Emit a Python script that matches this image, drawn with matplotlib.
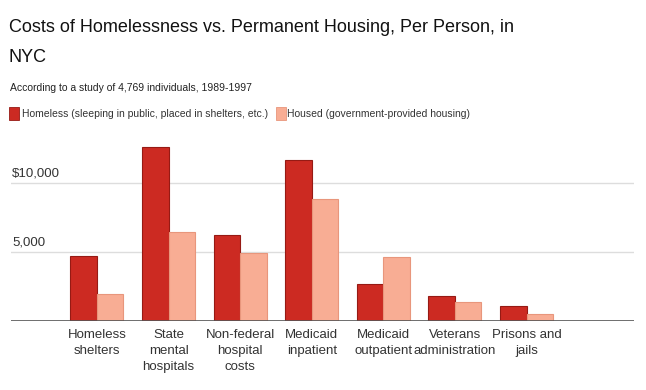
import numpy as np
import matplotlib
matplotlib.use('Agg')
import matplotlib.pyplot as plt

plt.rcParams['font.family'] = ['Liberation Sans', 'DejaVu Sans']

categories = ['Homeless\nshelters', 'State\nmental\nhospitals', 'Non-federal\nhospital\ncosts',
              'Medicaid\ninpatient', 'Medicaid\noutpatient', 'Veterans\nadministration', 'Prisons and\njails']
homeless = [4690, 12600, 6260, 11700, 2660, 1840, 1090]
housed = [1930, 6430, 4900, 8840, 4620, 1380, 490]
yticks = [5000, 10000]
ytick_labels = ['5,000', '$10,000']

red = '#cc2a22'
red_edge = '#961a14'
salmon = '#f8ad94'
salmon_edge = '#e8967c'

fig = plt.figure(figsize=(6.46, 3.9), dpi=100)
ax = fig.add_axes([11 / 646, 1 - 321 / 390, 623 / 646, 175 / 390])

x = np.arange(len(categories))
w = 0.37
ax.bar(x - w / 2, homeless, w, color=red, edgecolor=red_edge, linewidth=0.8, zorder=3)
ax.bar(x + w / 2, housed, w, color=salmon, edgecolor=salmon_edge, linewidth=0.8, zorder=3)

ax.set_xlim(-1.2, 7.5)
ax.set_ylim(0, 175 / 13.8 * 1000)
for s in ax.spines.values():
    s.set_visible(False)
ax.axhline(0, color='#555555', linewidth=1.2, zorder=4)
for v, lab in zip(yticks, ytick_labels):
    ax.axhline(v, color='#dddddd', linewidth=1, zorder=1)
    ax.text(0.002, v + 250, lab, transform=ax.get_yaxis_transform(), fontsize=9.5,
            color='#333333', ha='left', va='bottom')
ax.set_yticks([])
ax.set_xticks(x)
ax.set_xticklabels(categories, fontsize=9.5, color='#333333', linespacing=1.45, va='top')
ax.tick_params(axis='x', length=0, pad=6)

fig.text(9 / 646, 1 - 27 / 390, 'Costs of Homelessness vs. Permanent Housing, Per Person, in',
         fontsize=13, color='#111111', va='center', ha='left')
fig.text(9 / 646, 1 - 57 / 390, 'NYC', fontsize=13, color='#111111', va='center', ha='left')
fig.text(10 / 646, 1 - 88 / 390, 'According to a study of 4,769 individuals, 1989-1997',
         fontsize=7.5, color='#222222', va='center', ha='left')

# legend
fig.patches.append(plt.Rectangle((9 / 646, 1 - 120 / 390), 10 / 646, 13 / 390, transform=fig.transFigure,
                                 facecolor=red, edgecolor=red_edge, linewidth=0.6))
fig.text(22 / 646, 1 - 114 / 390, 'Homeless (sleeping in public, placed in shelters, etc.)',
         fontsize=7.5, color='#333333', va='center', ha='left')
fig.patches.append(plt.Rectangle((276 / 646, 1 - 120 / 390), 10 / 646, 13 / 390, transform=fig.transFigure,
                                 facecolor=salmon, edgecolor=salmon_edge, linewidth=0.6))
fig.text(287 / 646, 1 - 114 / 390, 'Housed (government-provided housing)',
         fontsize=7.5, color='#333333', va='center', ha='left')

fig.savefig('out.png', dpi=100, facecolor='white')
